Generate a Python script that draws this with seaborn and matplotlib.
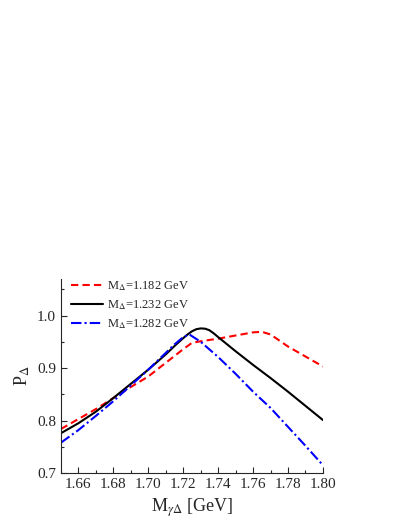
import pandas as pd
import matplotlib
matplotlib.use("Agg")
import matplotlib.pyplot as plt
import seaborn as sns
from matplotlib.ticker import MultipleLocator

# values
x_red = [1.65, 1.66, 1.67, 1.68, 1.69, 1.70, 1.71, 1.72, 1.725, 1.73, 1.74, 1.75,
         1.76, 1.765, 1.77, 1.78, 1.79, 1.80]
p_red = [0.784, 0.803, 0.822, 0.843, 0.864, 0.884, 0.910, 0.936, 0.948, 0.951, 0.956, 0.962,
         0.968, 0.969, 0.964, 0.941, 0.922, 0.903]

x_black = [1.65, 1.66, 1.67, 1.68, 1.69, 1.70, 1.71, 1.715, 1.72, 1.7225, 1.725, 1.7275,
           1.73, 1.7325, 1.735, 1.7375, 1.74, 1.75, 1.76, 1.77, 1.78, 1.79, 1.80]
p_black = [0.776, 0.795, 0.817, 0.843, 0.870, 0.897, 0.926, 0.942, 0.957, 0.964, 0.970, 0.974,
           0.9755, 0.975, 0.972, 0.966, 0.959, 0.932, 0.906, 0.881, 0.855, 0.828, 0.801]

x_blue = [1.65, 1.66, 1.67, 1.68, 1.69, 1.70, 1.71, 1.715, 1.72, 1.7235, 1.73, 1.74,
          1.75, 1.76, 1.77, 1.78, 1.79, 1.80]
p_blue = [0.758, 0.782, 0.809, 0.837, 0.867, 0.897, 0.929, 0.945, 0.959, 0.964, 0.950, 0.921,
          0.889, 0.855, 0.824, 0.788, 0.752, 0.715]

labels = [r"M$_{\Delta}$=1.182 GeV", r"M$_{\Delta}$=1.232 GeV", r"M$_{\Delta}$=1.282 GeV"]
colors = ["#ff0000", "#000000", "#0000ff"]

sns.set_style("ticks")
plt.rcParams["font.family"] = ["Liberation Serif", "DejaVu Serif"]
plt.rcParams["mathtext.fontset"] = "stix"
plt.rcParams["xtick.direction"] = "in"
plt.rcParams["ytick.direction"] = "in"

df = pd.concat([
    pd.DataFrame({"x": x_red, "P": p_red, "mass": labels[0]}),
    pd.DataFrame({"x": x_black, "P": p_black, "mass": labels[1]}),
    pd.DataFrame({"x": x_blue, "P": p_blue, "mass": labels[2]}),
], ignore_index=True)

fig = plt.figure(figsize=(4.08, 5.28), dpi=100)
ax = fig.add_axes([0.1495, 0.104, 0.642, 0.368])

sns.lineplot(data=df, x="x", y="P", hue="mass", style="mass",
             hue_order=labels, style_order=labels,
             palette=dict(zip(labels, colors)),
             dashes={labels[0]: (3.5, 2.0), labels[1]: "", labels[2]: (5, 1.5, 1, 1.5)},
             linewidth=1.5, ax=ax)

ax.set_xlim(1.65, 1.80)
ax.set_ylim(0.70, 1.07)
ax.xaxis.set_major_locator(MultipleLocator(0.02))
ax.xaxis.set_minor_locator(MultipleLocator(0.01))
ax.yaxis.set_major_locator(MultipleLocator(0.1))
ax.yaxis.set_minor_locator(MultipleLocator(0.05))
ax.xaxis.set_major_formatter(plt.FuncFormatter(lambda v, p: f"{v:.2f}"))
ax.yaxis.set_major_formatter(plt.FuncFormatter(lambda v, p: f"{v:.1f}"))
ax.tick_params(which="major", length=4, width=0.8, labelsize=11)
ax.tick_params(which="minor", length=2.5, width=0.8)
sns.despine(ax=ax)

ax.set_xlabel(r"M$_{\gamma\Delta}$ [GeV]", fontsize=13)
ax.set_ylabel(r"P$_{\Delta}$", fontsize=13)

handles, labs = ax.get_legend_handles_labels()
ax.legend(handles, labs, loc="upper left", bbox_to_anchor=(-0.005, 1.055), frameon=False,
          fontsize=9, handlelength=2.6, handletextpad=0.25, labelspacing=0.4)

fig.savefig("out.png", dpi=100)
